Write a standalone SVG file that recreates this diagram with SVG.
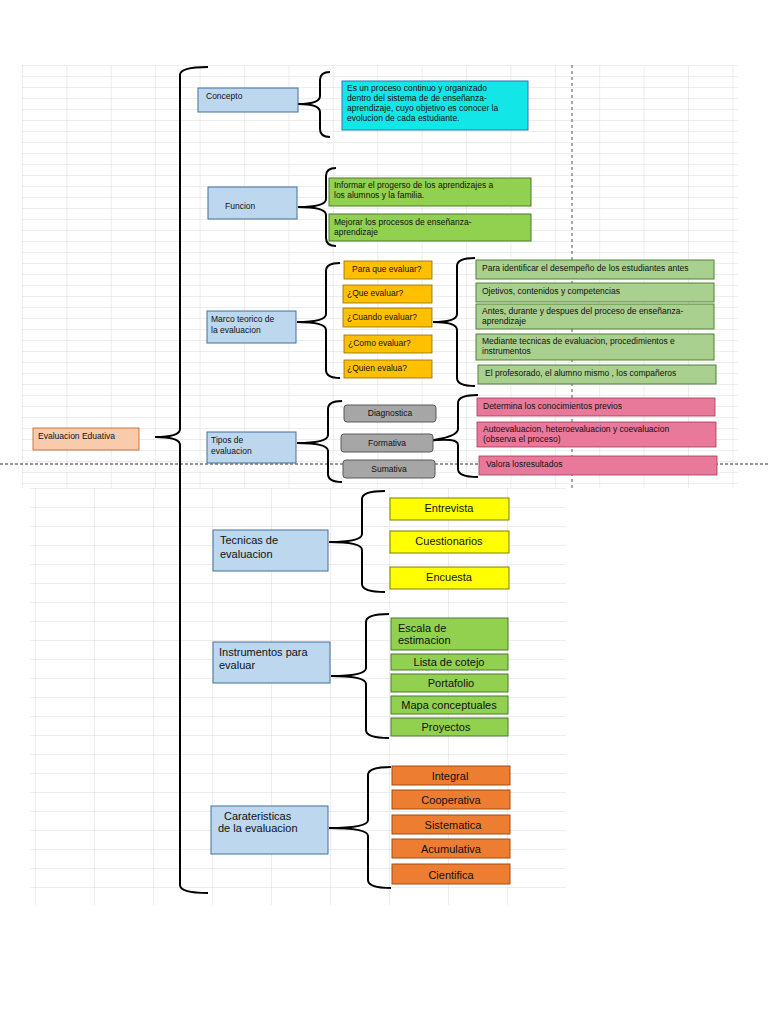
<svg xmlns="http://www.w3.org/2000/svg" width="768" height="1024" viewBox="0 0 768 1024">
<style>
text{font-family:"Liberation Sans",Arial,sans-serif;font-size:8.5px;fill:#111}
.b{font-size:11px}
.blue{fill:#bdd7ee;stroke:#41719c;stroke-width:1}
.g1{fill:#92d050;stroke:#4a7a2a;stroke-width:1}
.g2{fill:#a9d08e;stroke:#538135;stroke-width:1}
.y{fill:#ffc000;stroke:#8a6d00;stroke-width:0.8}
.yy{fill:#ffff00;stroke:#7f7f00;stroke-width:1}
.gr{fill:#a6a6a6;stroke:#595959;stroke-width:1}
.pk{fill:#e8799a;stroke:#a33a5a;stroke-width:0.8}
.or{fill:#ed7d31;stroke:#a34d12;stroke-width:1}
.br{fill:none;stroke:#000;stroke-width:2}
</style>
<defs>
<pattern id="gt" x="22" y="65" width="44.4" height="11" patternUnits="userSpaceOnUse"><path d="M0 0V11M0 0H44.4" stroke="#dcdcdc" stroke-width="1" fill="none"/></pattern>
<pattern id="gb" x="35" y="488" width="59" height="19" patternUnits="userSpaceOnUse"><path d="M0 0V19M0 0H59" stroke="#dcdcdc" stroke-width="1" fill="none"/></pattern>
</defs>
<rect width="768" height="1024" fill="#fff"/>
<rect x="22" y="65" width="716" height="423" fill="url(#gt)"/>
<rect x="30" y="488" width="536" height="417" fill="url(#gb)"/>
<g id="connectors">
<line x1="0" y1="464" x2="768" y2="464" stroke="#333" stroke-width="1" stroke-dasharray="3,2"/>
<line x1="572" y1="65" x2="572" y2="488" stroke="#555" stroke-width="1" stroke-dasharray="3,3"/>
<path class="br" d="M208 67Q180 67 180 75V429Q180 437 155 437Q180 437 180 445V488"/>
<path class="br" d="M208 893Q180 893 180 885V488"/>
<path class="br" d="M330 72Q320 72 320 80V96Q320 104 298 104Q320 104 320 112V129Q320 137 330 137"/>
<path class="br" d="M336 168Q326 168 326 176V199Q326 207 298 207Q326 207 326 215V238Q326 246 336 246"/>
<path class="br" d="M340 263Q326 263 326 271V314Q326 322 297 322Q326 322 326 330V370Q326 378 340 378"/>
<path class="br" d="M475 258Q457 258 457 266V314Q457 322 433 322Q457 322 457 330V378Q457 386 475 386"/>
<path class="br" d="M342 401Q328 401 328 409V435Q328 443 297 443Q328 443 328 451V474Q328 482 342 482"/>
<path class="br" d="M478 395Q458 395 458 403V429Q458 437 427 441Q458 437 458 445V469Q458 477 478 477"/>
<path class="br" d="M385 491Q362 491 362 499V534Q362 542 329 542Q362 542 362 550V584Q362 592 385 592"/>
<path class="br" d="M389 614Q366 614 366 622V668Q366 676 331 676Q366 676 366 684V730Q366 738 389 738"/>
<path class="br" d="M391 767Q368 767 368 775V820Q368 828 329 828Q368 828 368 836V880Q368 888 391 888"/>
</g>
<g id="n-raiz"><rect class="pk" x="33" y="428" width="106" height="22" style="fill:#f8cbad;stroke:#c55a11"/><text x="38" y="439">Evaluacion Eduativa</text></g>
<g id="n-concepto"><rect class="blue" x="198" y="88" width="100" height="24"/><text x="206" y="99">Concepto</text></g>
<g id="n-funcion"><rect class="blue" x="208" y="187" width="89" height="32"/><text x="225" y="209">Funcion</text></g>
<g id="n-marco"><rect class="blue" x="207" y="311" width="89" height="32"/><text x="211" y="322">Marco teorico de</text><text x="211" y="333">la evaluacion</text></g>
<g id="n-tipos"><rect class="blue" x="207" y="432" width="89" height="31"/><text x="211" y="443">Tipos de</text><text x="211" y="454">evaluacion</text></g>
<g id="n-def"><rect x="342" y="81" width="186" height="49" fill="#12e6e6" stroke="#2e75b6"/><text x="347" y="91">Es un proceso continuo y organizado</text><text x="347" y="101">dentro del sistema de de enseñanza-</text><text x="347" y="111">aprendizaje, cuyo objetivo es conocer la</text><text x="347" y="121">evolucion de cada estudiante.</text></g>
<g id="n-f1"><rect class="g1" x="329" y="178" width="202" height="28"/><text x="334" y="188">Informar el progerso de los aprendizajes a</text><text x="334" y="198">los alumnos y la familia.</text></g>
<g id="n-f2"><rect class="g1" x="329" y="214" width="202" height="27"/><text x="334" y="225">Mejorar los procesos de enseñanza-</text><text x="334" y="235">aprendizaje</text></g>
<g id="n-q1"><rect class="y" x="344" y="261" width="88" height="18"/><text x="352" y="272">Para que evaluar?</text></g>
<g id="n-q2"><rect class="y" x="343" y="285" width="89" height="18"/><text x="347" y="296">¿Que evaluar?</text></g>
<g id="n-q3"><rect class="y" x="343" y="308" width="89" height="19"/><text x="347" y="320">¿Cuando evaluar?</text></g>
<g id="n-q4"><rect class="y" x="344" y="335" width="88" height="18"/><text x="348" y="346">¿Como evaluar?</text></g>
<g id="n-q5"><rect class="y" x="344" y="360" width="88" height="18"/><text x="347" y="371">¿Quien evalua?</text></g>
<g id="n-a1"><rect class="g2" x="476" y="260" width="238" height="19"/><text x="482" y="271">Para identificar el desempeño de los estudiantes antes</text></g>
<g id="n-a2"><rect class="g2" x="476" y="283" width="238" height="19"/><text x="482" y="294">Ojetivos, contenidos y competencias</text></g>
<g id="n-a3"><rect class="g2" x="476" y="304" width="238" height="25"/><text x="482" y="314">Antes,  durante y despues del proceso de enseñanza-</text><text x="482" y="324">aprendizaje</text></g>
<g id="n-a4"><rect class="g2" x="476" y="334" width="238" height="26"/><text x="482" y="344">Mediante tecnicas  de evaluacion, procedimientos e</text><text x="482" y="354">instrumentos</text></g>
<g id="n-a5"><rect class="g2" x="478" y="365" width="238" height="19"/><text x="485" y="376">El profesorado, el alumno mismo , los compañeros</text></g>
<g id="n-diag"><rect class="gr" x="344" y="405" width="92" height="17" rx="3"/><text x="390" y="416" text-anchor="middle">Diagnostica</text></g>
<g id="n-form"><rect class="gr" x="341" y="434" width="92" height="18" rx="3"/><text x="387" y="446" text-anchor="middle">Formativa</text></g>
<g id="n-sum"><rect class="gr" x="343" y="460" width="92" height="18" rx="3"/><text x="389" y="472" text-anchor="middle">Sumativa</text></g>
<g id="n-p1"><rect class="pk" x="477" y="398" width="238" height="18"/><text x="483" y="409">Determina los conocimientos previos</text></g>
<g id="n-p2"><rect class="pk" x="477" y="422" width="239" height="25"/><text x="483" y="432">Autoevaluacion, heteroevaluacion y coevaluacion</text><text x="483" y="442">(observa el proceso)</text></g>
<g id="n-p3"><rect class="pk" x="479" y="456" width="238" height="19"/><text x="486" y="467">Valora losresultados</text></g>
<g id="n-tec"><rect class="blue" x="213" y="530" width="115" height="41"/><text class="b" x="220" y="544">Tecnicas de</text><text class="b" x="220" y="558">evaluacion</text></g>
<g id="n-ins"><rect class="blue" x="213" y="642" width="117" height="41"/><text class="b" x="219" y="656">Instrumentos para</text><text class="b" x="219" y="669">evaluar</text></g>
<g id="n-car"><rect class="blue" x="211" y="806" width="117" height="48"/><text class="b" x="224" y="820">Carateristicas</text><text class="b" x="218" y="832">de la evaluacion</text></g>
<g id="n-t1"><rect class="yy" x="390" y="498" width="119" height="22"/><text class="b" x="449" y="512" text-anchor="middle">Entrevista</text></g>
<g id="n-t2"><rect class="yy" x="390" y="531" width="119" height="22"/><text class="b" x="449" y="545" text-anchor="middle">Cuestionarios</text></g>
<g id="n-t3"><rect class="yy" x="390" y="567" width="119" height="22"/><text class="b" x="449" y="581" text-anchor="middle">Encuesta</text></g>
<g id="n-i1"><rect class="g1" x="391" y="618" width="117" height="32"/><text class="b" x="398" y="632">Escala de</text><text class="b" x="398" y="644">estimacion</text></g>
<g id="n-i2"><rect class="g1" x="391" y="654" width="117" height="16"/><text class="b" x="449" y="666" text-anchor="middle">Lista de cotejo</text></g>
<g id="n-i3"><rect class="g1" x="391" y="674" width="117" height="18"/><text class="b" x="451" y="687" text-anchor="middle">Portafolio</text></g>
<g id="n-i4"><rect class="g1" x="391" y="696" width="117" height="18"/><text class="b" x="449" y="709" text-anchor="middle">Mapa conceptuales</text></g>
<g id="n-i5"><rect class="g1" x="391" y="718" width="117" height="18"/><text class="b" x="446" y="731" text-anchor="middle">Proyectos</text></g>
<g id="n-c1"><rect class="or" x="392" y="766" width="118" height="19"/><text class="b" x="450" y="780" text-anchor="middle">Integral</text></g>
<g id="n-c2"><rect class="or" x="392" y="790" width="118" height="19"/><text class="b" x="451" y="804" text-anchor="middle">Cooperativa</text></g>
<g id="n-c3"><rect class="or" x="392" y="815" width="118" height="19"/><text class="b" x="453" y="829" text-anchor="middle">Sistematica</text></g>
<g id="n-c4"><rect class="or" x="392" y="839" width="118" height="19"/><text class="b" x="451" y="853" text-anchor="middle">Acumulativa</text></g>
<g id="n-c5"><rect class="or" x="392" y="864" width="118" height="20"/><text class="b" x="451" y="879" text-anchor="middle">Cientifica</text></g>
</svg>
